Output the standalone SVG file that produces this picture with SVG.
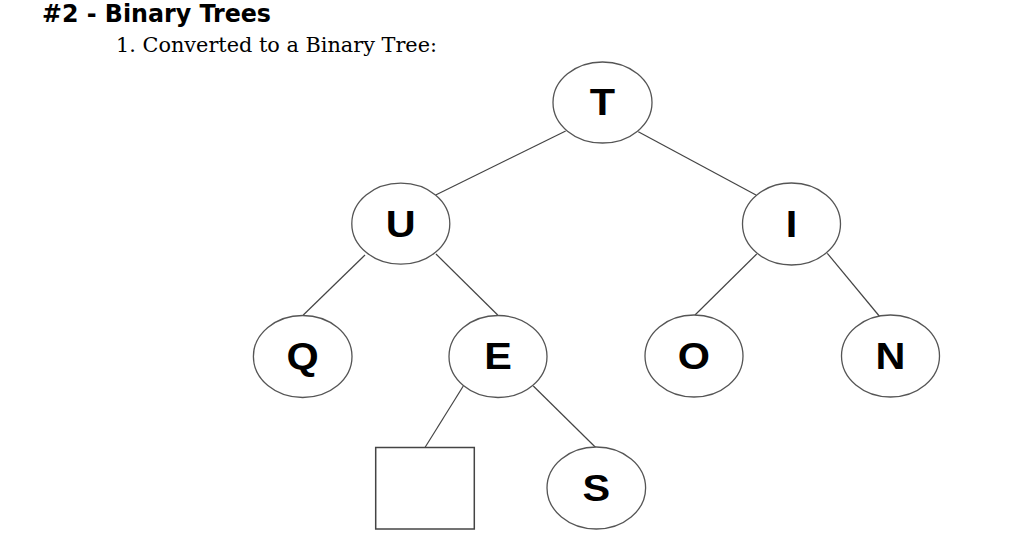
<svg xmlns="http://www.w3.org/2000/svg" width="1024" height="556" viewBox="0 0 1024 556">
<style>
.node ellipse{fill:#fff;stroke:#555;stroke-width:1.3}
.node rect{fill:#fff;stroke:#444;stroke-width:1.5}
.lbl{font-family:"Liberation Sans",Arial,sans-serif;font-weight:bold;font-size:37px;fill:#000;text-anchor:middle}
#connectors line{stroke:#444;stroke-width:1.2}
.title{font-family:"DejaVu Sans","Liberation Sans",sans-serif;font-weight:bold;font-size:24px;fill:#000}
.sub{font-family:"DejaVu Serif","Liberation Serif",serif;font-size:21px;fill:#000}
</style>
<rect width="1024" height="556" fill="#fff"/>
<text class="title" x="42" y="21.5" textLength="229" lengthAdjust="spacingAndGlyphs">#2 - Binary Trees</text>
<text class="sub" x="116" y="51.5" textLength="321" lengthAdjust="spacingAndGlyphs">1. Converted to a Binary Tree:</text>
<g id="connectors">
<line x1="565.7" y1="131" x2="435.7" y2="195"/>
<line x1="638.3" y1="131.7" x2="756" y2="195"/>
<line x1="365" y1="255" x2="303.3" y2="315"/>
<line x1="436" y1="254" x2="497.7" y2="315"/>
<line x1="756.7" y1="254" x2="695" y2="315"/>
<line x1="827.3" y1="253.3" x2="881.7" y2="319"/>
<line x1="463.3" y1="386" x2="425" y2="447.5"/>
<line x1="533.3" y1="386" x2="595.7" y2="447.5"/>
</g>
<g id="node-T" class="node"><ellipse cx="602.5" cy="102.5" rx="49.5" ry="40.5"/><text class="lbl" x="602.5" y="115.5" transform="translate(602.5 0) scale(1.12 1) translate(-602.5 0)">T</text></g>
<g id="node-U" class="node"><ellipse cx="400.8" cy="223.7" rx="49" ry="40.5"/><text class="lbl" x="400.8" y="237.5" transform="translate(400.8 0) scale(1.12 1) translate(-400.8 0)">U</text></g>
<g id="node-I" class="node"><ellipse cx="791.5" cy="224" rx="49" ry="41"/><text class="lbl" x="791.5" y="237.5" transform="translate(791.5 0) scale(1.12 1) translate(-791.5 0)">I</text></g>
<g id="node-Q" class="node"><ellipse cx="302.7" cy="356.5" rx="49.3" ry="41"/><text class="lbl" x="302.7" y="369.5" transform="translate(302.7 0) scale(1.12 1) translate(-302.7 0)">Q</text></g>
<g id="node-E" class="node"><ellipse cx="498" cy="356.5" rx="49" ry="41"/><text class="lbl" x="498" y="369.5" transform="translate(498 0) scale(1.12 1) translate(-498 0)">E</text></g>
<g id="node-O" class="node"><ellipse cx="694" cy="356" rx="49" ry="41"/><text class="lbl" x="694" y="369.5" transform="translate(694 0) scale(1.12 1) translate(-694 0)">O</text></g>
<g id="node-N" class="node"><ellipse cx="890.5" cy="356" rx="49" ry="41"/><text class="lbl" x="890.5" y="369.5" transform="translate(890.5 0) scale(1.12 1) translate(-890.5 0)">N</text></g>
<g id="node-empty" class="node"><rect x="375.7" y="447.5" width="98.6" height="81.5"/></g>
<g id="node-S" class="node"><ellipse cx="596.3" cy="488" rx="49.3" ry="41"/><text class="lbl" x="596.3" y="501" transform="translate(596.3 0) scale(1.12 1) translate(-596.3 0)">S</text></g>
</svg>
